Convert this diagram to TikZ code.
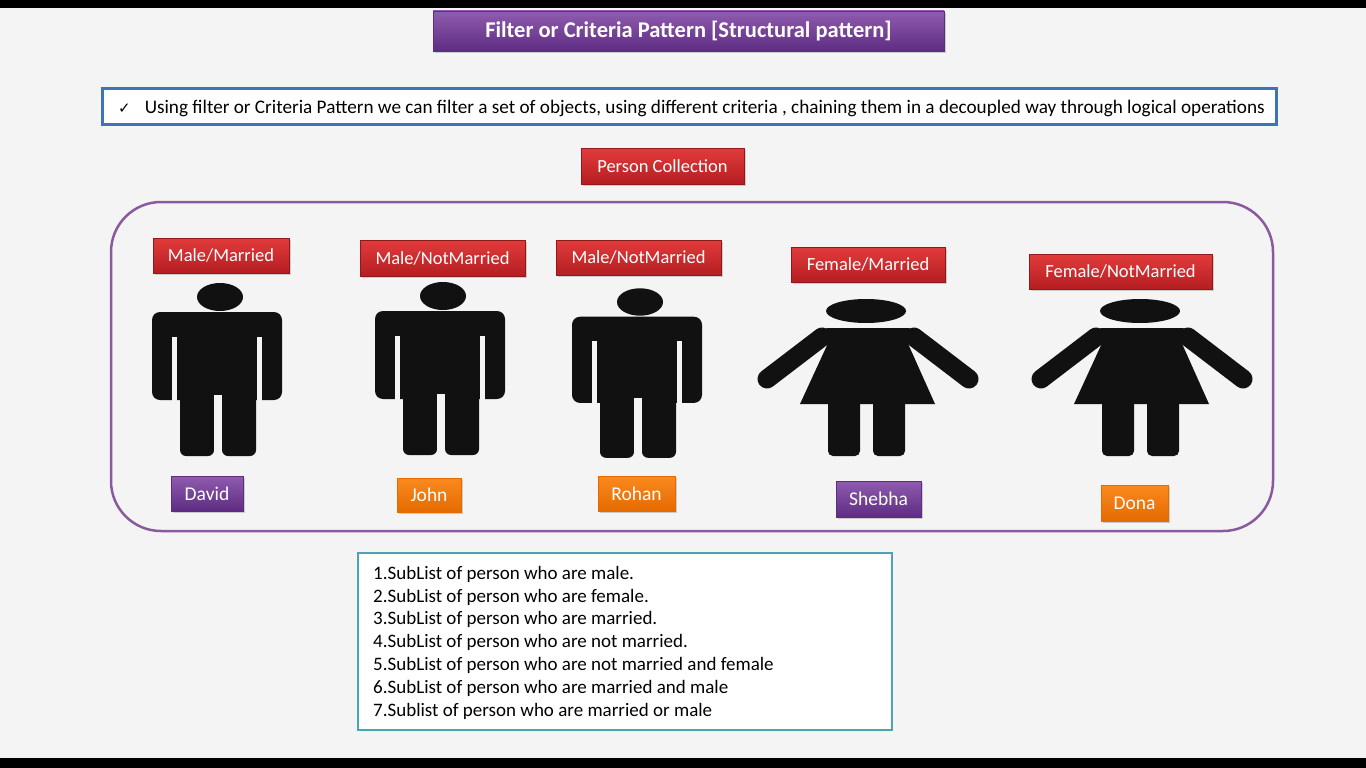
\documentclass[tikz,border=0pt]{standalone}
\usepackage{fontspec}
\setmainfont{Carlito}
\newfontfamily\dv{DejaVu Sans}
\usetikzlibrary{shadows}
\definecolor{bg}{HTML}{F4F4F4}
\definecolor{pur}{HTML}{7B3FA0}
\definecolor{purd}{HTML}{5E2C82}
\definecolor{redt}{HTML}{E23B3B}
\definecolor{redb}{HTML}{B51E22}
\definecolor{orat}{HTML}{FA8A1E}
\definecolor{orab}{HTML}{E56A00}
\definecolor{blu}{HTML}{3E73B8}
\definecolor{teal}{HTML}{4BA3B5}
\definecolor{frame}{HTML}{8B5A9E}
\definecolor{fig}{HTML}{111111}
\tikzset{
 lbl/.style={draw=redb!80!black,top color=redt,bottom color=redb,text=white,font=\fontsize{18.5}{20}\selectfont,inner sep=0pt,drop shadow={opacity=0.35,shadow xshift=2pt,shadow yshift=-2pt}},
 pbox/.style={draw=purd,top color=pur!85,bottom color=purd,text=white,font=\fontsize{19.5}{21}\selectfont,inner sep=0pt,drop shadow={opacity=0.35,shadow xshift=2pt,shadow yshift=-2pt}},
 obox/.style={draw=orab,top color=orat,bottom color=orab,text=white,font=\fontsize{19.5}{21}\selectfont,inner sep=0pt,drop shadow={opacity=0.35,shadow xshift=2pt,shadow yshift=-2pt}},
 male/.pic={
  \fill[fig] (3,0) ellipse[x radius=23,y radius=14];
  \fill[fig,rounded corners=8] (-65,15) rectangle (65,103);
  \fill[fig,rounded corners=6] (-37,90) rectangle (-3,159);
  \fill[fig,rounded corners=6] (5,90) rectangle (39,159);
  \fill[bg] (-45,40) rectangle (-40,104);
  \fill[bg] (40,40) rectangle (45,104);
  \fill[bg] (-3,98) rectangle (5,160);
 },
 female/.pic={
  \fill[fig] (-2,0) ellipse[x radius=40,y radius=12];
  \fill[fig,rounded corners=6] (-46,17) rectangle (46,30);
  \draw[fig,line width=19pt,line cap=round] (-46,26) -- (-101,68);
  \draw[fig,line width=19pt,line cap=round] (46,26) -- (101,68);
  \fill[fig] (-33,17) -- (33,17) -- (67,93) -- (-68,93) -- cycle;
  \fill[fig,rounded corners=5] (-40,88) rectangle (-8,145);
  \fill[fig,rounded corners=5] (5,88) rectangle (37,145);
 }
}
\begin{document}
\begin{tikzpicture}[x=1pt,y=-1pt]
\useasboundingbox (0,0) rectangle (1366,768);
\fill[bg] (0,0) rectangle (1366,768);
\fill[black] (0,0) rectangle (1366,8);
\fill[black] (0,758) rectangle (1366,768);
\node[pbox,minimum width=511pt,minimum height=40pt,font=\bfseries\fontsize{22.5}{24}\selectfont] (title) at (688.5,31) {Filter or Criteria Pattern [Structural pattern]};
\node[draw=blu,line width=2.5pt,fill=white,minimum width=1174pt,minimum height=36pt] (desc) at (689.5,106.5) {};
\node[anchor=west,inner sep=0pt,font=\fontsize{19.2}{20}\selectfont] (desct) at (118,108) {{\dv\fontsize{15}{16}\selectfont ✓}\hspace{14pt}Using filter or Criteria Pattern we can filter a set of objects, using different criteria , chaining them in a decoupled way through logical operations};
\node[lbl,minimum width=163pt,minimum height=36pt] (pc) at (662.5,166) {Person Collection};
\draw[frame,line width=2.5pt,rounded corners=50pt] (111,202) rectangle (1273,531);
\node[lbl,minimum width=136pt,minimum height=35pt] (l1) at (221,255.5) {Male/Married};
\node[lbl,minimum width=165pt,minimum height=36pt] (l2) at (442.5,258) {Male/NotMarried};
\node[lbl,minimum width=165pt,minimum height=35pt] (l3) at (638.5,257.5) {Male/NotMarried};
\node[lbl,minimum width=154pt,minimum height=35pt] (l4) at (868,264.5) {Female/Married};
\node[lbl,minimum width=183pt,minimum height=35pt] (l5) at (1120.5,271.5) {Female/NotMarried};
\pic at (217,297) {male};
\pic at (440,296) {male};
\pic[yscale=0.98] at (637,302) {male};
\pic at (868,311) {female};
\pic at (1142,311) {female};
\node[pbox,minimum width=72pt,minimum height=35pt] (n1) at (207,493.5) {David};
\node[obox,minimum width=64pt,minimum height=34pt] (n2) at (429,495) {John};
\node[obox,minimum width=77pt,minimum height=35pt] (n3) at (636.5,493.5) {Rohan};
\node[pbox,minimum width=85pt,minimum height=36pt] (n4) at (878.5,499) {Shebha};
\node[obox,minimum width=67pt,minimum height=36pt] (n5) at (1134.5,503) {Dona};
\node[draw=teal,line width=2.5pt,fill=white,minimum width=534pt,minimum height=177pt] (list) at (625,641.5) {};
\foreach \t [count=\i] in {1.SubList of person who are male.,2.SubList of person who are female.,3.SubList of person who are married.,4.SubList of person who are not married.,5.SubList of person who are not married and female,6.SubList of person who are married and male,7.Sublist of person who are married or male}
 \node[anchor=west,inner sep=0pt,font=\fontsize{19}{21}\selectfont] (t\i) at (373,551.5+22.8*\i) {\t};
\end{tikzpicture}
\end{document}
